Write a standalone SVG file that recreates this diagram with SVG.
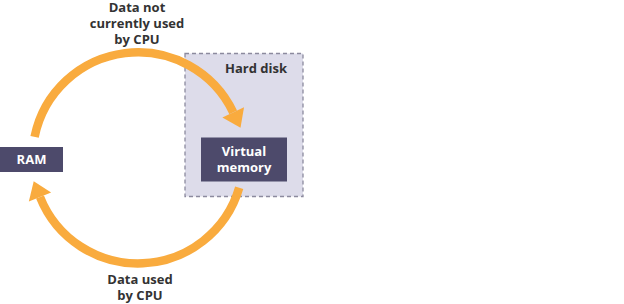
<svg xmlns="http://www.w3.org/2000/svg" width="624" height="304" viewBox="0 0 624 304">
<defs>
<style>
.lbl{font-family:"Open Sans","Noto Sans","Liberation Sans",sans-serif;font-weight:bold;font-size:13px;fill:#333333;text-anchor:middle}
.wt{font-family:"Open Sans","Noto Sans","Liberation Sans",sans-serif;font-weight:bold;font-size:13px;fill:#ffffff;text-anchor:middle}
.dark{fill:#4d4a6b}
.flow{fill:none;stroke:#f9ab3e;stroke-width:8.5;marker-end:url(#ah)}
</style>
<marker id="ah" markerUnits="userSpaceOnUse" markerWidth="20" markerHeight="26" refX="0" refY="12" orient="auto" viewBox="0 0 20 24" overflow="visible">
<path d="M0,0 L17,12 L0,24 Z" fill="#f9ab3e"/>
</marker>
</defs>
<rect width="624" height="304" fill="#ffffff"/>
<g id="harddisk">
<rect x="185" y="53.5" width="118" height="143" fill="#dddcea" stroke="#8c8a9e" stroke-width="1.3" stroke-dasharray="4,3"/>
<text class="lbl" x="287" y="73" style="text-anchor:end">Hard disk</text>
</g>
<g id="virtual">
<rect class="dark" x="201" y="137.5" width="86" height="44"/>
<text class="wt" x="244" y="156">Virtual<tspan x="244" dy="15.5">memory</tspan></text>
</g>
<g id="ram">
<rect class="dark" x="0" y="147" width="63" height="25"/>
<text class="wt" x="31.5" y="164">RAM</text>
</g>
<g id="connectors">
<path class="flow" d="M34.6,136.9 A105.5,105.5 0 0 1 233.2,112.4"/>
<path class="flow" d="M239.2,187.8 A105.5,105.5 0 0 1 40,197"/>
</g>
<g id="labels">
<text class="lbl" x="137" y="11.5">Data not<tspan x="137" dy="16">currently used</tspan><tspan x="137" dy="16">by CPU</tspan></text>
<text class="lbl" x="140" y="284">Data used<tspan x="140" dy="16">by CPU</tspan></text>
</g>
</svg>
